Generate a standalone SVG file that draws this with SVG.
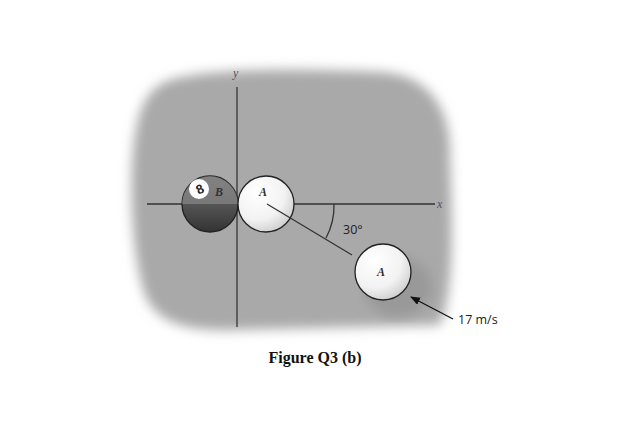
<svg xmlns="http://www.w3.org/2000/svg" width="644" height="445" viewBox="0 0 644 445">
<defs>
<filter id="blur" x="-10%" y="-10%" width="120%" height="120%"><feGaussianBlur stdDeviation="6"/></filter>
<radialGradient id="wg" cx="0.35" cy="0.3" r="0.8"><stop offset="0" stop-color="#fff"/><stop offset="0.6" stop-color="#f2f2f2"/><stop offset="1" stop-color="#c8c8c8"/></radialGradient>
<linearGradient id="bg" x1="0" y1="0" x2="0" y2="1"><stop offset="0" stop-color="#777"/><stop offset="0.5" stop-color="#555"/><stop offset="1" stop-color="#333"/></linearGradient>
<marker id="ah" markerWidth="10" markerHeight="8" refX="9" refY="4" orient="auto" markerUnits="userSpaceOnUse"><path d="M0,0 L10,4 L0,8 z" fill="#111"/></marker>
<style>.ball{stroke:#222;stroke-width:1.3}.lbl{font-family:"Liberation Serif",serif;font-style:italic;font-weight:bold;font-size:12px;fill:#333}.t{font-family:"Open Sans","Liberation Sans",sans-serif;font-size:12.5px;fill:#222}</style>
</defs>
<rect width="644" height="445" fill="#fff"/>
<path d="M165,82 C200,68 300,68 380,72 C430,74 452,110 450,160 C452,220 455,290 440,325 L236,330 C180,332 150,320 142,285 C130,240 128,160 138,120 C143,100 152,88 165,82 Z" fill="#a9a9a9" filter="url(#blur)"/>
<ellipse cx="398" cy="287" rx="34" ry="30" fill="#999" filter="url(#blur)"/>
<g id="connectors" stroke="#333" stroke-width="1.3" fill="none">
<line x1="237" y1="87" x2="237" y2="327"/>
<line x1="147" y1="204" x2="435" y2="204"/>
<path d="M334,204 A 68 68 0 0 1 326 238"/>
</g>
<g id="ballB"><circle class="ball" cx="210" cy="204" r="28" fill="url(#bg)"/><path d="M182,204 A28,28 0 0 1 238,204 Z" fill="#888" opacity="0.7"/><circle cx="199" cy="189" r="10" fill="#fff"/><text x="196" y="194" font-family="Liberation Sans,sans-serif" font-weight="bold" font-size="13" fill="#222" transform="rotate(-25 199 189)">8</text><text class="lbl" x="215" y="196">B</text></g>
<g id="ballA1"><circle class="ball" cx="266" cy="204" r="28" fill="url(#wg)"/><text class="lbl" x="259" y="196">A</text></g>
<g id="path"><line x1="267" y1="204" x2="352" y2="255" stroke="#333" stroke-width="1.3"/></g>
<g id="ballA2"><circle class="ball" cx="383" cy="272" r="28" fill="url(#wg)"/><text class="lbl" x="377" y="276">A</text></g>
<g id="velocity"><line x1="453" y1="319" x2="411" y2="297" stroke="#111" stroke-width="1.3" marker-end="url(#ah)"/></g>
<text class="t" x="343" y="234">30°</text>
<text class="t" x="458" y="324">17 m/s</text>
<text x="233" y="77" font-family="Liberation Serif,serif" font-style="italic" font-size="12" fill="#555">y</text>
<text x="437" y="208" font-family="Liberation Serif,serif" font-style="italic" font-size="12" fill="#555">x</text>
<text x="315" y="363" text-anchor="middle" font-family="Liberation Serif,serif" font-weight="bold" font-size="16" fill="#111">Figure Q3 (b)</text>
</svg>
